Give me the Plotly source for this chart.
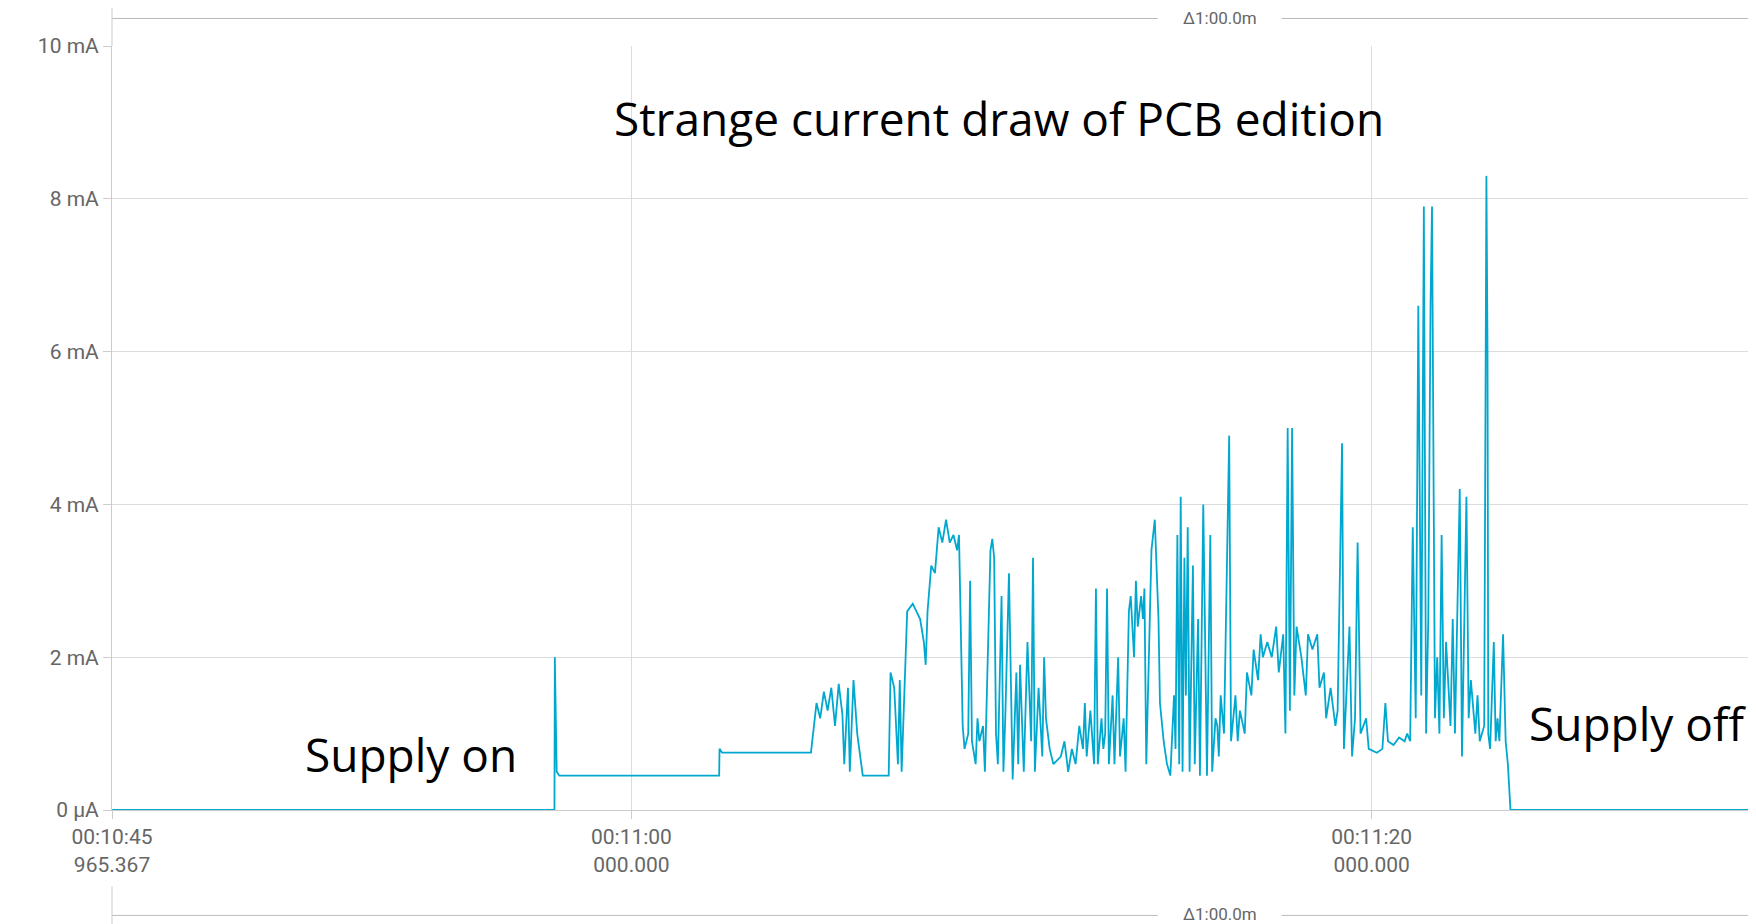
import plotly.graph_objects as go

t = [45.97,57.92,57.93,57.98,58.05,62.37,62.38,62.45,64.85,64.9,65.0,65.1,65.2,65.3,65.4,65.5,65.6,65.7,65.75,65.85,65.9,66.0,66.1,66.25,66.95,
67.0,67.1,67.2,67.25,67.3,67.4,67.45,67.6,67.8,67.9,67.95,68.0,68.1,68.2,68.3,68.4,68.5,68.6,68.7,68.8,68.85,68.95,69.0,69.1,69.15,69.2,69.3,69.35,69.4,69.5,69.55,
69.7,69.75,69.8,69.85,69.9,70.0,70.05,70.1,70.2,70.3,70.4,70.45,70.5,70.6,70.7,70.8,70.85,70.9,71.0,71.1,71.15,71.2,71.3,71.4,71.6,71.7,71.8,71.9,72.0,
72.1,72.2,72.25,72.3,72.4,72.5,72.55,72.6,72.7,72.75,72.8,72.85,72.9,73.0,73.05,73.15,73.2,73.3,73.35,73.44,73.49,73.58,73.63,73.68,73.77,73.82,73.86,73.91,
74.0,74.05,74.14,74.24,74.28,74.38,74.47,74.56,74.66,74.7,74.75,74.8,74.84,74.89,74.94,74.98,75.03,75.08,75.17,75.22,75.31,75.36,75.45,75.55,75.64,75.69,75.78,
75.83,75.87,75.92,76.01,76.15,76.2,76.32,76.38,76.44,76.57,76.63,76.75,76.81,76.93,77.0,77.06,77.18,77.3,77.42,77.49,77.61,77.67,77.73,77.79,77.85,77.91,77.97,78.1,
78.22,78.28,78.4,78.53,78.59,78.71,78.77,78.89,79.02,79.08,79.2,79.25,79.4,79.47,79.55,79.62,79.7,79.85,79.92,80.14,80.29,80.37,80.44,80.59,80.74,80.89,80.96,81.04,
81.11,81.19,81.26,81.34,81.41,81.47,81.53,81.59,81.63,81.71,81.77,81.83,81.89,81.95,82.01,82.13,82.19,82.25,82.38,82.44,82.56,82.62,82.68,82.8,82.86,82.92,83.04,
83.1,83.13,83.15,83.2,83.3,83.35,83.4,83.45,83.55,83.62,83.68,83.75,90.73]
i_ma = [0,0,2.0,0.5,0.45,0.45,0.8,0.75,0.75,1.0,1.4,1.2,1.55,1.3,1.6,1.1,1.65,1.25,0.6,1.6,0.5,1.7,1.0,0.45,0.45,
1.8,1.6,0.6,1.7,0.5,2.0,2.6,2.7,2.5,2.2,1.9,2.6,3.2,3.1,3.7,3.5,3.8,3.5,3.6,3.4,3.6,1.1,0.8,1.0,3.0,0.9,0.6,1.2,0.9,1.1,0.5,
3.4,3.55,3.3,1.0,0.6,2.8,0.5,1.2,3.1,0.4,1.8,0.6,1.9,0.5,2.2,0.9,3.3,0.5,1.6,0.7,2.0,1.2,0.8,0.6,0.7,0.9,0.5,0.8,0.6,
1.1,0.8,1.4,0.7,1.3,0.6,2.9,0.6,1.2,0.8,1.0,2.9,0.6,1.5,0.6,2.0,0.7,1.2,0.5,2.6,2.8,2.0,3.0,2.4,2.8,2.5,2.9,0.6,
2.6,3.4,3.8,2.5,1.4,0.9,0.6,0.45,1.5,0.8,3.6,0.6,4.1,0.5,3.3,1.5,3.7,0.5,3.2,0.6,2.5,0.45,4.0,0.45,3.6,0.5,1.2,
1.1,0.7,1.5,1.0,4.9,0.9,1.5,0.9,1.3,1.0,1.8,1.5,2.1,1.7,2.3,2.0,2.2,2.0,2.4,1.8,2.3,1.0,5.0,1.3,5.0,1.5,2.4,2.0,
1.5,2.3,2.1,2.3,1.6,1.8,1.2,1.6,1.1,1.3,4.8,0.8,2.4,0.7,1.2,3.5,1.0,1.2,0.8,0.75,0.8,1.4,0.9,0.85,0.95,0.9,1.0,0.9,
3.7,1.2,6.6,1.5,7.9,1.0,2.5,6.6,7.9,1.2,2.0,1.0,3.6,1.2,2.2,1.1,2.5,1.0,4.2,0.7,4.1,1.2,1.7,1.0,1.5,0.9,1.1,
8.3,6.0,1.0,0.8,2.2,0.9,1.2,0.9,2.3,0.9,0.6,0.0,0]

x_ticks = [45.965367, 60, 80]
x_labels = ["00:10:45<br>965.367", "00:11:00<br>000.000", "00:11:20<br>000.000"]
y_ticks = [0, 2, 4, 6, 8, 10]
y_labels = ["0 µA", "2 mA", "4 mA", "6 mA", "8 mA", "10 mA"]

fig = go.Figure(go.Scatter(x=t, y=i_ma, mode="lines", line=dict(color="#00a8cf", width=1.8), hoverinfo="skip"))
grid = "#dcdcdc"
fig.update_layout(
    width=1756, height=924, paper_bgcolor="white", plot_bgcolor="white",
    margin=dict(l=104, r=0, t=38, b=122), showlegend=False,
    font=dict(family="Roboto, Arial", color="#666", size=21),
)
fig.update_xaxes(range=[45.965367, 90.6], tickvals=x_ticks, ticktext=x_labels, showgrid=True, gridcolor=grid,
                 zeroline=False, showline=True, linecolor="#ccc", ticks="outside", ticklen=8, tickcolor="#ccc")
fig.update_yaxes(range=[0, 10], tickvals=y_ticks, ticktext=y_labels, showgrid=True, gridcolor=grid,
                 zeroline=False, showline=True, linecolor="#ccc", ticks="outside", ticklen=8, tickcolor="#ccc")
shapes = []
for yp in [1.036, -0.138]:
    shapes.append(dict(type="line", xref="paper", yref="paper", x0=0, x1=0.633, y0=yp, y1=yp, line=dict(color="#bbb", width=1)))
    shapes.append(dict(type="line", xref="paper", yref="paper", x0=0.708, x1=1, y0=yp, y1=yp, line=dict(color="#bbb", width=1)))
shapes.append(dict(type="line", xref="paper", yref="paper", x0=0, x1=0, y0=1, y1=1.07, line=dict(color="#ccc", width=1)))
shapes.append(dict(type="line", xref="paper", yref="paper", x0=0, x1=0, y0=-0.1, y1=-0.16, line=dict(color="#ccc", width=1)))
fig.update_layout(shapes=shapes)
anns = [
    dict(x=0.671, y=1.036, text="Δ1:00.0m"),
    dict(x=0.671, y=-0.136, text="Δ1:00.0m"),
]
for a in anns:
    a.update(xref="paper", yref="paper", showarrow=False, xanchor="center", yanchor="middle",
             font=dict(size=17, color="#666"))
big = dict(family="Open Sans", size=46, color="black")
anns += [
    dict(x=0.537, y=0.906, text="Strange current draw of PCB edition"),
    dict(x=0.181, y=0.073, text="Supply on"),
    dict(x=0.924, y=0.114, text="Supply off"),
]
for a in anns[2:]:
    a.update(xref="paper", yref="paper", showarrow=False, xanchor="center", yanchor="middle", font=big)
fig.update_layout(annotations=anns)
fig.write_html("out.html")
